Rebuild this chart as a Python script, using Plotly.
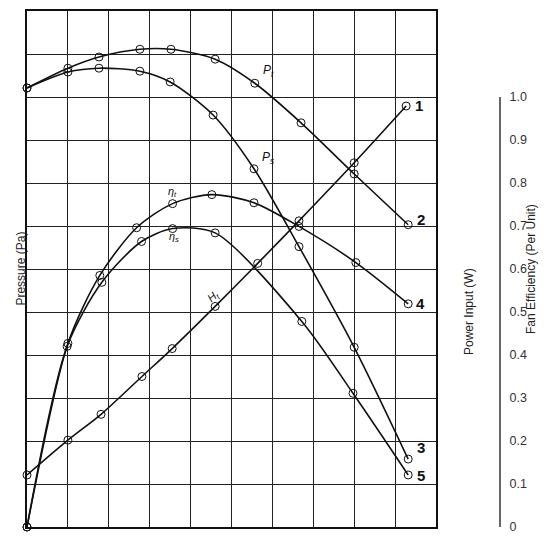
import plotly.graph_objects as go

pt_x = [0, 1.0, 1.76, 2.76, 3.52, 4.6, 5.57, 6.7, 8.0, 9.32]
pt_y = [1.021, 1.067, 1.093, 1.111, 1.111, 1.088, 1.032, 0.940, 0.821, 0.703]
ps_x = [0, 1.0, 1.76, 2.76, 3.5, 4.55, 5.55, 6.65, 8.0, 9.32]
ps_y = [1.021, 1.058, 1.067, 1.060, 1.035, 0.958, 0.833, 0.652, 0.418, 0.158]
ht_x = [0, 1.0, 1.81, 2.81, 3.55, 4.6, 5.64, 6.65, 8.0, 9.27]
ht_y = [0.121, 0.202, 0.262, 0.350, 0.415, 0.513, 0.613, 0.712, 0.847, 0.979]
et_x = [0, 1.0, 1.78, 2.68, 3.56, 4.52, 5.55, 6.65, 8.04, 9.32]
et_y = [0, 0.427, 0.585, 0.696, 0.752, 0.773, 0.754, 0.699, 0.615, 0.519]
es_x = [0, 0.98, 1.83, 2.8, 3.56, 4.6, 6.72, 7.97, 9.32]
es_y = [0, 0.42, 0.569, 0.664, 0.694, 0.684, 0.478, 0.311, 0.121]
right_ticks = [0, 0.1, 0.2, 0.3, 0.4, 0.5, 0.6, 0.7, 0.8, 0.9, 1.0]
right_labels = ["0", "0.1", "0.2", "0.3", "0.4", "0.5", "0.6", "0.7", "0.8", "0.9", "1.0"]

fig = go.Figure()
for xs, ys in [(pt_x, pt_y), (ps_x, ps_y), (ht_x, ht_y), (et_x, et_y), (es_x, es_y)]:
    fig.add_trace(go.Scatter(x=xs, y=ys, mode="lines+markers",
                             line=dict(color="#111", width=1.6, shape="spline", smoothing=0.8),
                             marker=dict(symbol="circle-open", size=8, color="#111", line=dict(width=1)),
                             showlegend=False, cliponaxis=False))
fig.add_trace(go.Scatter(x=[None], y=[None], yaxis="y2", showlegend=False))

pos = (500 - 27) / 513
grid = dict(showgrid=True, gridcolor="#222", gridwidth=1, zeroline=False,
            showline=True, linecolor="#111", linewidth=2, mirror=True,
            showticklabels=False, ticks="")
fig.update_layout(
    width=550, height=558, plot_bgcolor="white", paper_bgcolor="white",
    margin=dict(l=19, r=18, t=1, b=39),
    font=dict(family="Liberation Sans, Arial", size=12, color="#222"),
    xaxis=dict(range=[0, 10], dtick=1, domain=[0, 409/513], **grid),
    yaxis=dict(range=[0, 1.2], dtick=0.1, **grid),
    yaxis2=dict(range=[0, 1.2], overlaying="y", anchor="free", side="right",
                position=pos, tickvals=right_ticks, ticktext=right_labels,
                showgrid=False, showline=False, ticks="outside", ticklen=6,
                tickcolor="rgba(0,0,0,0)", zeroline=False,
                tickfont=dict(size=12.5, color="#333")),
)
fig.add_shape(type="line", xref="paper", yref="y2", x0=pos, x1=pos,
              y0=0, y1=1.0, line=dict(color="#333", width=1.5))

ann = [
    dict(x=5.0, y=-0.045, text="Airflow Rate (m<sup>3</sup>/s)", size=12),
    dict(x=9.58, y=0.98, text="<b>1</b>", size=15),
    dict(x=9.63, y=0.715, text="<b>2</b>", size=15),
    dict(x=9.63, y=0.185, text="<b>3</b>", size=15),
    dict(x=9.63, y=0.52, text="<b>4</b>", size=15),
    dict(x=9.63, y=0.12, text="<b>5</b>", size=15),
    dict(x=5.9, y=1.06, text="<i>P<sub>t</sub></i>", size=12),
    dict(x=5.9, y=0.857, text="<i>P<sub>s</sub></i>", size=12),
    dict(x=3.55, y=0.78, text="<i>η<sub>t</sub></i>", size=11),
    dict(x=3.6, y=0.675, text="<i>η<sub>s</sub></i>", size=11),
]
for a in ann:
    fig.add_annotation(x=a["x"], y=a["y"], text=a["text"], showarrow=False,
                       font=dict(size=a["size"], color="#111"))
fig.add_annotation(x=4.55, y=0.535, text="<i>H<sub>t</sub></i>", showarrow=False,
                   textangle=-40, font=dict(size=11, color="#111"))
fig.add_annotation(x=-0.03, y=0.6, xref="paper", yref="y", text="Pressure (Pa)",
                   textangle=-90, showarrow=False, font=dict(size=12))
fig.add_annotation(x=(478-27)/513, y=0.5, xref="paper", yref="y", text="Power Input (W)",
                   textangle=-90, showarrow=False, font=dict(size=12))
fig.add_annotation(x=(540-27)/513, y=0.6, xref="paper", yref="y", text="Fan Efficiency (Per Unit)",
                   textangle=-90, showarrow=False, font=dict(size=12))
fig.write_html("out.html")
